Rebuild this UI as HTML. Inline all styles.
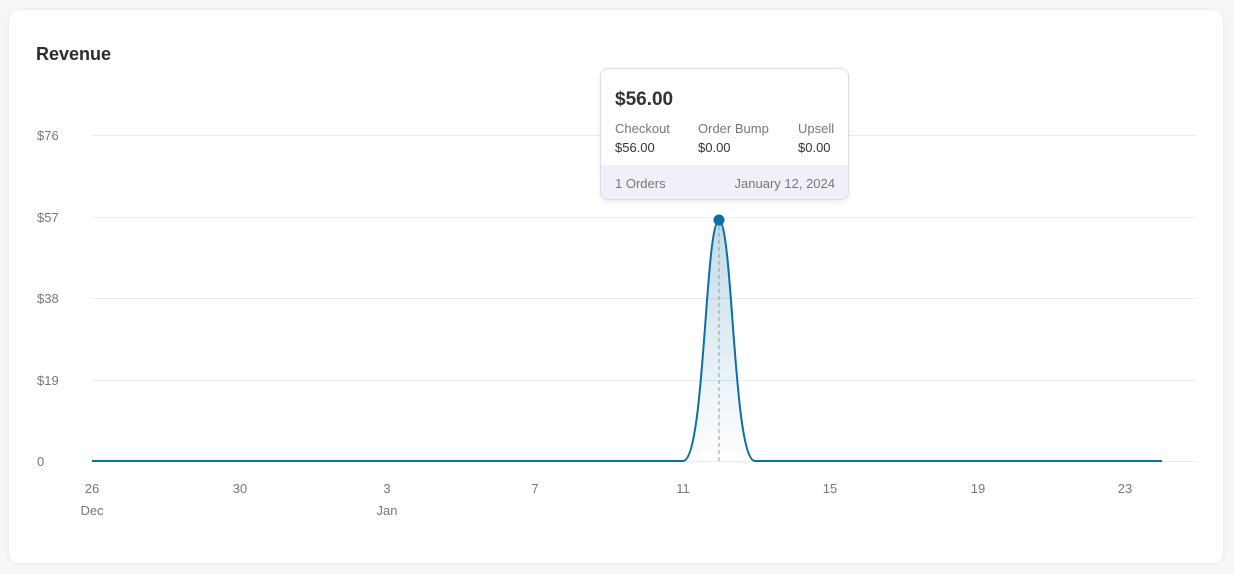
<html><head><style>
body{margin:0;background:#f5f6f8;font-family:"Liberation Sans",sans-serif;}
.card{position:absolute;left:9px;top:10px;width:1214px;height:553px;background:#fff;border-radius:10px;box-shadow:0 0 4px rgba(0,0,0,.06);}
.t{position:absolute;left:36px;top:44px;font-size:18px;font-weight:bold;color:#2b2b2b;}
.tip{position:absolute;left:600px;top:68px;width:247px;height:130px;background:#fff;border:1px solid #dcdcea;border-radius:8px;box-shadow:0 2px 6px rgba(0,0,0,.08);overflow:hidden;}
.tip .f{position:absolute;left:0;right:0;top:96px;height:34px;background:#f0f0f8;}
.tip span{position:absolute;font-size:13px;white-space:nowrap}
</style></head><body>
<div class="card"></div>
<div class="t">Revenue</div>
<svg width="1234" height="574" style="position:absolute;left:0;top:0">
<defs><linearGradient id="g" x1="0" y1="0" x2="0" y2="1"><stop offset="0" stop-color="#0a6fa6" stop-opacity=".25"/><stop offset="1" stop-color="#0a6fa6" stop-opacity="0"/></linearGradient></defs>
<g stroke="#ececec" stroke-width="1">
<line x1="92" x2="1196" y1="135.5" y2="135.5"/><line x1="92" x2="1196" y1="217.5" y2="217.5"/><line x1="92" x2="1196" y1="298.5" y2="298.5"/><line x1="92" x2="1196" y1="380.5" y2="380.5"/><line x1="92" x2="1196" y1="461.5" y2="461.5"/>
</g>
<g font-size="13" fill="#777" font-family="Liberation Sans">
<text x="37" y="140">$76</text><text x="37" y="222">$57</text><text x="37" y="303">$38</text><text x="37" y="385">$19</text><text x="37" y="466">0</text>
<g text-anchor="middle"><text x="92" y="493">26</text><text x="92" y="515">Dec</text><text x="240" y="493">30</text><text x="387" y="493">3</text><text x="387" y="515">Jan</text><text x="535" y="493">7</text><text x="683" y="493">11</text><text x="830" y="493">15</text><text x="978" y="493">19</text><text x="1125" y="493">23</text></g>
</g>
<path d="M683,461 C705,461 705,221 719,221 C733,221 733,461 755,461Z" fill="url(#g)"/>
<line x1="719" x2="719" y1="226" y2="461" stroke="#999" stroke-dasharray="4,3"/>
<path d="M92,461 L683,461 C705,461 705,221 719,221 C733,221 733,461 755,461 L1162,461" fill="none" stroke="#0a6fa6" stroke-width="2"/>
<circle cx="719" cy="220" r="5.5" fill="#0a6fa6"/>
</svg>
<div class="tip">
<span style="left:14px;top:20px;font-size:19px;font-weight:bold;color:#333">$56.00</span>
<span style="left:14px;top:52px;color:#777">Checkout</span><span style="left:14px;top:71px;color:#333">$56.00</span>
<span style="left:97px;top:52px;color:#777">Order Bump</span><span style="left:97px;top:71px;color:#333">$0.00</span>
<span style="left:197px;top:52px;color:#777">Upsell</span><span style="left:197px;top:71px;color:#333">$0.00</span>
<div class="f"></div>
<span style="left:14px;top:107px;color:#777">1 Orders</span><span style="right:13px;top:107px;color:#777">January 12, 2024</span>
</div>
</body></html>
